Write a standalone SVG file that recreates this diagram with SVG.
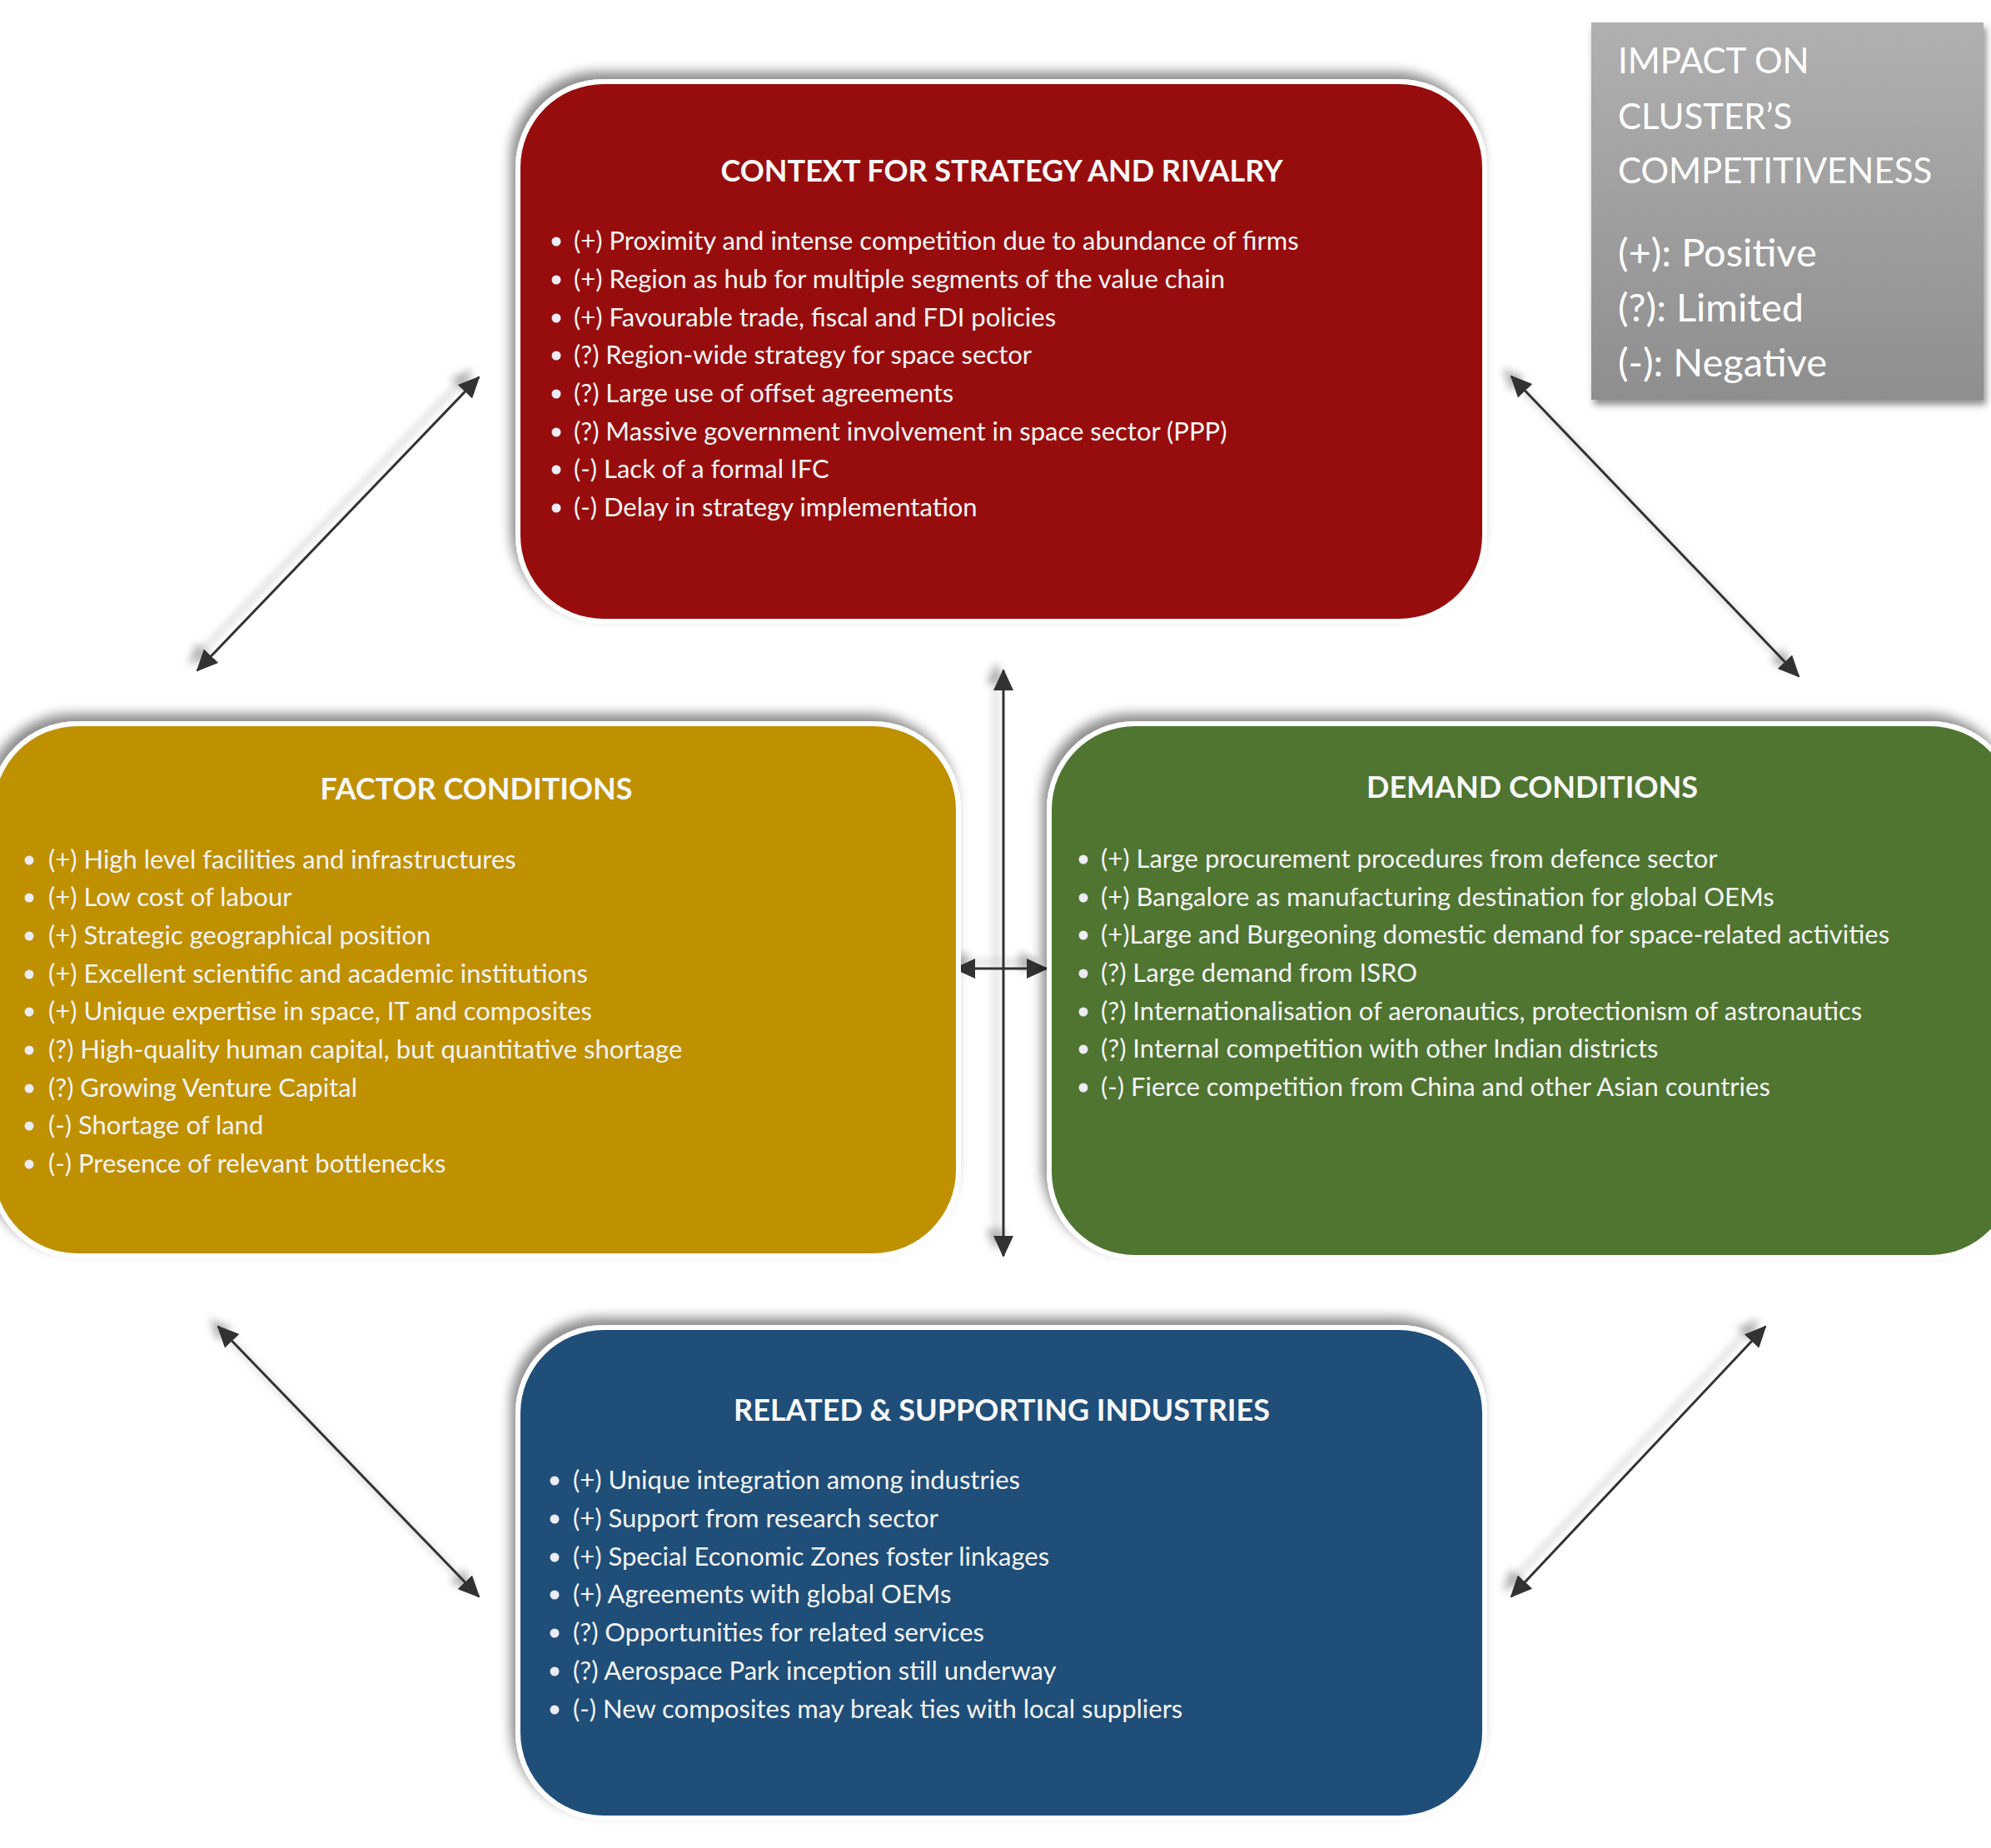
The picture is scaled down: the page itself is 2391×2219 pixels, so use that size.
<svg xmlns="http://www.w3.org/2000/svg" width="2391" height="2219" viewBox="0 0 2391 2219">
<style>
.title{font-family:Lato,"Liberation Sans",sans-serif;font-weight:bold;font-size:36px;fill:#f8f8f8;text-anchor:middle}
.item{font-family:Lato,"Liberation Sans",sans-serif;font-size:31px;fill:#f4f4f4}
.leg{font-family:Lato,"Liberation Sans",sans-serif;font-size:42px;fill:#ffffff}
.leg2{font-family:Lato,"Liberation Sans",sans-serif;font-size:47px;fill:#ffffff}
.dot{fill:#ececf4}
.frame{fill:#ffffff;filter:url(#sh)}
.conn line{stroke:#333333;stroke-width:3;marker-start:url(#ah);marker-end:url(#ah)}
</style>
<defs>
<filter id="sh" x="-10%" y="-10%" width="120%" height="120%">
<feGaussianBlur in="SourceAlpha" stdDeviation="7"/>
<feOffset dx="-6" dy="-9" result="b"/>
<feFlood flood-color="#000" flood-opacity="0.45"/>
<feComposite in2="b" operator="in"/>
<feMerge><feMergeNode/><feMergeNode in="SourceGraphic"/></feMerge>
</filter>
<filter id="ash" x="-20%" y="-20%" width="140%" height="140%">
<feGaussianBlur in="SourceAlpha" stdDeviation="5"/>
<feOffset dx="-9" dy="-8" result="b"/>
<feFlood flood-color="#000" flood-opacity="0.3"/>
<feComposite in2="b" operator="in"/>
<feMerge><feMergeNode/><feMergeNode in="SourceGraphic"/></feMerge>
</filter>
<filter id="lsh" x="-10%" y="-10%" width="120%" height="120%">
<feGaussianBlur in="SourceAlpha" stdDeviation="4"/>
<feOffset dx="3" dy="6" result="b"/>
<feFlood flood-color="#000" flood-opacity="0.45"/>
<feComposite in2="b" operator="in"/>
<feMerge><feMergeNode/><feMergeNode in="SourceGraphic"/></feMerge>
</filter>
<linearGradient id="lg" x1="0" y1="0" x2="0" y2="1">
<stop offset="0" stop-color="#b0b0b0"/>
<stop offset="1" stop-color="#8e8e8e"/>
</linearGradient>
<marker id="ah" viewBox="0 0 26 24" refX="24" refY="12" markerWidth="26" markerHeight="24" markerUnits="userSpaceOnUse" orient="auto-start-reverse">
<path d="M0,0 L26,12 L0,24 z" fill="#333333"/>
</marker>
</defs>
<rect width="2391" height="2219" fill="#ffffff"/>

<g id="connectors" class="conn" filter="url(#ash)">
<line x1="575" y1="453" x2="237" y2="805"/>
<line x1="1815" y1="452" x2="2160" y2="812"/>
<line x1="262" y1="1593" x2="575" y2="1917"/>
<line x1="2120" y1="1593" x2="1815" y2="1917"/>
<line x1="1205" y1="805" x2="1205" y2="1508"/>
<line x1="1147" y1="1163" x2="1257" y2="1163"/>
</g>

<g id="context">
<rect class="frame" x="619" y="95" width="1167" height="654" rx="106"/>
<rect x="625" y="101" width="1155" height="642" rx="100" fill="#970d0d"/>
<text class="title" x="1203" y="218">CONTEXT FOR STRATEGY AND RIVALRY</text>
<g class="dot"><circle cx="668" cy="290" r="5.5"/><circle cx="668" cy="336" r="5.5"/><circle cx="668" cy="382" r="5.5"/><circle cx="668" cy="427" r="5.5"/><circle cx="668" cy="473" r="5.5"/><circle cx="668" cy="519" r="5.5"/><circle cx="668" cy="564" r="5.5"/><circle cx="668" cy="610" r="5.5"/></g>
<text class="item" x="689" y="300">(+) Proximity and intense competition due to abundance of firms</text>
<text class="item" x="689" y="346">(+) Region as hub for multiple segments of the value chain</text>
<text class="item" x="689" y="392">(+) Favourable trade, fiscal and FDI policies</text>
<text class="item" x="689" y="437">(?) Region-wide strategy for space sector</text>
<text class="item" x="689" y="483">(?) Large use of offset agreements</text>
<text class="item" x="689" y="529">(?) Massive government involvement in space sector (PPP)</text>
<text class="item" x="689" y="574">(-) Lack of a formal IFC</text>
<text class="item" x="689" y="620">(-) Delay in strategy implementation</text>
</g>

<g id="factor">
<rect class="frame" x="-13" y="866" width="1167" height="645" rx="106"/>
<rect x="-7" y="872" width="1155" height="633" rx="100" fill="#bf9000"/>
<text class="title" x="572" y="960">FACTOR CONDITIONS</text>
<g class="dot"><circle cx="35" cy="1033" r="5.5"/><circle cx="35" cy="1078" r="5.5"/><circle cx="35" cy="1124" r="5.5"/><circle cx="35" cy="1170" r="5.5"/><circle cx="35" cy="1215" r="5.5"/><circle cx="35" cy="1261" r="5.5"/><circle cx="35" cy="1307" r="5.5"/><circle cx="35" cy="1352" r="5.5"/><circle cx="35" cy="1398" r="5.5"/></g>
<text class="item" x="58" y="1043">(+) High level facilities and infrastructures</text>
<text class="item" x="58" y="1088">(+) Low cost of labour</text>
<text class="item" x="58" y="1134">(+) Strategic geographical position</text>
<text class="item" x="58" y="1180">(+) Excellent scientific and academic institutions</text>
<text class="item" x="58" y="1225">(+) Unique expertise in space, IT and composites</text>
<text class="item" x="58" y="1271">(?) High-quality human capital, but quantitative shortage</text>
<text class="item" x="58" y="1317">(?) Growing Venture Capital</text>
<text class="item" x="58" y="1362">(-) Shortage of land</text>
<text class="item" x="58" y="1408">(-) Presence of relevant bottlenecks</text>
</g>

<g id="demand">
<rect class="frame" x="1257" y="866" width="1167" height="647" rx="106"/>
<rect x="1263" y="872" width="1155" height="635" rx="100" fill="#4f7531"/>
<text class="title" x="1840" y="958">DEMAND CONDITIONS</text>
<g class="dot"><circle cx="1301" cy="1032" r="5.5"/><circle cx="1301" cy="1078" r="5.5"/><circle cx="1301" cy="1123" r="5.5"/><circle cx="1301" cy="1169" r="5.5"/><circle cx="1301" cy="1215" r="5.5"/><circle cx="1301" cy="1260" r="5.5"/><circle cx="1301" cy="1306" r="5.5"/></g>
<text class="item" x="1322" y="1042">(+) Large procurement procedures from defence sector</text>
<text class="item" x="1322" y="1088">(+) Bangalore as manufacturing destination for global OEMs</text>
<text class="item" x="1322" y="1133">(+)Large and Burgeoning domestic demand for space-related activities</text>
<text class="item" x="1322" y="1179">(?) Large demand from ISRO</text>
<text class="item" x="1322" y="1225">(?) Internationalisation of aeronautics, protectionism of astronautics</text>
<text class="item" x="1322" y="1270">(?) Internal competition with other Indian districts</text>
<text class="item" x="1322" y="1316">(-) Fierce competition from China and other Asian countries</text>
</g>

<g id="related">
<rect class="frame" x="619" y="1591" width="1167" height="595" rx="106"/>
<rect x="625" y="1597" width="1155" height="583" rx="100" fill="#1f4e79"/>
<text class="title" x="1203" y="1706">RELATED &amp; SUPPORTING INDUSTRIES</text>
<g class="dot"><circle cx="666" cy="1778" r="5.5"/><circle cx="666" cy="1824" r="5.5"/><circle cx="666" cy="1870" r="5.5"/><circle cx="666" cy="1915" r="5.5"/><circle cx="666" cy="1961" r="5.5"/><circle cx="666" cy="2007" r="5.5"/><circle cx="666" cy="2053" r="5.5"/></g>
<text class="item" x="688" y="1788">(+) Unique integration among industries</text>
<text class="item" x="688" y="1834">(+) Support from research sector</text>
<text class="item" x="688" y="1880">(+) Special Economic Zones foster linkages</text>
<text class="item" x="688" y="1925">(+) Agreements with global OEMs</text>
<text class="item" x="688" y="1971">(?) Opportunities for related services</text>
<text class="item" x="688" y="2017">(?) Aerospace Park inception still underway</text>
<text class="item" x="688" y="2063">(-) New composites may break ties with local suppliers</text>
</g>

<g id="legend">
<rect x="1911" y="27" width="471" height="453" fill="url(#lg)" filter="url(#lsh)"/>
<text class="leg" x="1943" y="88">IMPACT ON</text>
<text class="leg" x="1943" y="155">CLUSTER’S</text>
<text class="leg" x="1943" y="220">COMPETITIVENESS</text>
<text class="leg2" x="1943" y="320">(+): Positive</text>
<text class="leg2" x="1943" y="386">(?): Limited</text>
<text class="leg2" x="1943" y="452">(-): Negative</text>
</g>
</svg>
